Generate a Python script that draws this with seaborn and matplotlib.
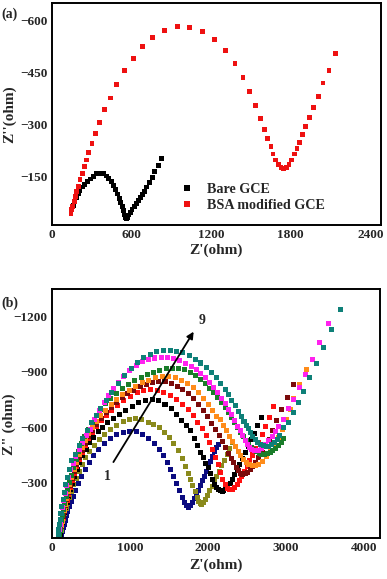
import seaborn as sns
import matplotlib.pyplot as plt
import pandas as pd

sns.set_style("white")
plt.rcParams['font.family'] = ['Liberation Serif', 'DejaVu Serif']
plt.rcParams['font.weight'] = 'bold'
plt.rcParams['axes.labelweight'] = 'bold'

# ---- panel (a): bare vs BSA modified GCE ----
bare_x = [146, 153, 163, 174, 186, 199, 213, 231, 248, 269, 292, 315, 339, 364, 389, 410, 429, 450, 468, 482,
          498, 510, 520, 531, 538, 545, 552, 561, 570, 580, 593, 605, 621, 636, 651, 666, 681, 696, 716, 737,
          756, 777, 802, 825]
bare_y = [-43, -55, -66, -78, -89, -100, -110, -120, -128, -136, -143, -150, -158, -160, -158, -152, -144, -135, -124, -113,
          -100, -88, -76, -64, -53, -42, -33, -29, -33, -40, -48, -55, -64, -73, -81, -90, -99, -108, -120, -133,
          -147, -164, -182, -201]

bsa_x = [146, 151, 158, 169, 178, 188, 204, 213, 229, 244, 259, 279, 304, 329, 359, 399, 440, 490, 550, 616,
         681, 756, 851, 948, 1038, 1133, 1224, 1309, 1380, 1440, 1490, 1535, 1571, 1600, 1626, 1651, 1666, 1686, 1706, 1727,
         1746, 1767, 1787, 1806, 1827, 1847, 1867, 1887, 1912, 1943, 1973, 2008, 2043, 2088, 2139]
bsa_y = [-45, -55, -64, -78, -93, -107, -121, -141, -160, -179, -198, -219, -246, -273, -306, -342, -376, -415, -454, -490,
         -523, -550, -569, -581, -579, -567, -544, -512, -476, -436, -395, -355, -318, -286, -260, -236, -215, -198, -184, -176,
         -174, -177, -185, -198, -215, -232, -249, -270, -294, -319, -348, -381, -419, -455, -504]

labels_a = ["Bare GCE", "BSA modified GCE"]
colors_a = ["#000000", "#ee1111"]

# ---- panel (b): curves 1..9 ----
x1 = [125, 135, 146, 158, 172, 188, 206, 226, 250, 278, 310, 345, 385, 430, 480, 540, 605, 675, 750, 830,
      915, 1000, 1085, 1165, 1240, 1310, 1375, 1430, 1480, 1525, 1565, 1600, 1635, 1668, 1700, 1730, 1755, 1780, 1805, 1830,
      1855, 1880, 1905, 1930, 1955, 1980, 2005, 2030, 2055, 2080, 2105, 2133]
y1 = [-20, -38, -56, -76, -98, -121, -145, -170, -197, -227, -260, -295, -333, -370, -408, -445, -480, -512, -540, -561,
      -574, -579, -575, -562, -540, -512, -480, -447, -410, -372, -333, -295, -258, -223, -193, -175, -168, -176, -192, -213,
      -236, -260, -285, -310, -336, -362, -389, -416, -443, -470, -488, -506]

x2 = [112, 121, 131, 142, 155, 170, 187, 206, 228, 253, 282, 315, 352, 393, 438, 488, 545, 608, 678, 755,
      835, 915, 995, 1075, 1155, 1235, 1303, 1375, 1445, 1505, 1565, 1620, 1668, 1710, 1745, 1778, 1808, 1835, 1860, 1882,
      1902, 1922, 1945, 1970, 1997, 2025, 2055, 2085, 2115, 2145, 2178, 2212, 2246, 2280, 2316]
y2 = [-20, -40, -61, -83, -107, -133, -160, -189, -220, -253, -288, -325, -363, -400, -436, -470, -502, -532, -560, -590,
      -612, -630, -641, -645, -640, -628, -617, -597, -573, -544, -513, -472, -430, -390, -352, -318, -285, -252, -222, -200,
      -188, -184, -192, -210, -232, -256, -282, -309, -336, -363, -392, -422, -452, -483, -515]

x3 = [108, 117, 127, 138, 150, 164, 180, 198, 218, 240, 265, 293, 325, 360, 398, 440, 487, 538, 595, 655,
      720, 790, 865, 945, 1030, 1115, 1200, 1285, 1368, 1450, 1528, 1600, 1665, 1725, 1778, 1825, 1868, 1905, 1940, 1972,
      2002, 2030, 2056, 2080, 2105, 2130, 2155, 2180, 2205, 2230, 2255, 2282, 2310, 2340, 2372, 2405, 2440, 2477, 2515, 2555,
      2595, 2637, 2680]
y3 = [-20, -41, -63, -86, -111, -138, -166, -196, -228, -262, -298, -335, -373, -410, -447, -482, -515, -546, -575, -601,
      -625, -648, -670, -692, -712, -732, -745, -748, -742, -725, -700, -670, -636, -608, -580, -540, -500, -465, -435, -405,
      -380, -350, -320, -292, -272, -261, -256, -255, -259, -267, -280, -298, -320, -345, -372, -400, -430, -462, -497, -532,
      -567, -610, -655]

x4 = [106, 115, 125, 136, 148, 162, 178, 196, 216, 238, 263, 291, 322, 356, 393, 433, 477, 525, 578, 636,
      700, 770, 845, 925, 1010, 1095, 1180, 1265, 1350, 1435, 1520, 1600, 1675, 1745, 1810, 1870, 1925, 1975, 2020, 2060,
      2098, 2132, 2162, 2190, 2218, 2248, 2280, 2312, 2345, 2375, 2405, 2435, 2467, 2500, 2535, 2572, 2610, 2650, 2695, 2740,
      2790, 2844]
y4 = [-20, -42, -65, -89, -115, -143, -173, -205, -239, -275, -312, -350, -389, -428, -466, -503, -539, -573, -605, -636,
      -665, -693, -720, -745, -767, -785, -798, -803, -800, -790, -772, -750, -724, -695, -662, -628, -592, -555, -516, -478,
      -438, -398, -358, -320, -288, -268, -262, -265, -274, -290, -310, -333, -360, -388, -418, -450, -484, -520, -560, -602,
      -650, -713]

x5 = [104, 113, 123, 134, 146, 160, 176, 194, 214, 236, 261, 289, 320, 354, 391, 431, 475, 523, 575, 632,
      695, 762, 835, 905, 975, 1050, 1130, 1210, 1290, 1370, 1450, 1530, 1605, 1680, 1752, 1820, 1885, 1945, 2000, 2050,
      2098, 2142, 2182, 2220, 2258, 2295, 2330, 2362, 2392, 2420, 2447, 2475, 2505, 2538, 2573, 2610, 2650, 2692, 2735, 2782,
      2830, 2878, 2942, 3014, 3090]
y5 = [-20, -42, -66, -91, -118, -147, -178, -211, -246, -283, -321, -360, -400, -439, -477, -514, -550, -584, -617, -648,
      -678, -707, -735, -760, -780, -800, -818, -832, -842, -847, -845, -836, -822, -803, -780, -753, -723, -690, -656, -622,
      -590, -556, -522, -490, -460, -432, -407, -385, -366, -352, -345, -348, -358, -372, -390, -412, -436, -462, -495, -535,
      -585, -636, -695, -761, -833]

x6 = [102, 111, 121, 132, 144, 158, 174, 192, 212, 234, 259, 287, 318, 352, 389, 429, 473, 521, 573, 630,
      692, 760, 832, 910, 990, 1075, 1160, 1245, 1330, 1415, 1500, 1585, 1665, 1740, 1812, 1880, 1945, 2005, 2060, 2110,
      2157, 2200, 2240, 2278, 2316, 2352, 2385, 2418, 2452, 2487, 2525, 2565, 2605, 2650, 2700, 2750, 2800, 2850, 2900, 2950,
      3000, 3050, 3099, 3176, 3261]
y6 = [-20, -43, -67, -93, -121, -151, -183, -217, -253, -291, -330, -370, -411, -451, -490, -528, -565, -600, -633, -664,
      -693, -722, -750, -776, -800, -822, -840, -855, -866, -873, -874, -868, -853, -835, -812, -785, -755, -722, -690, -658,
      -640, -610, -580, -550, -522, -495, -470, -448, -428, -412, -400, -393, -391, -398, -415, -440, -470, -505, -545, -590,
      -640, -695, -755, -833, -910]

x7 = [98, 107, 117, 128, 140, 154, 170, 188, 208, 230, 255, 283, 314, 348, 385, 425, 469, 517, 570, 628,
      690, 757, 830, 905, 985, 1065, 1145, 1225, 1305, 1385, 1465, 1545, 1625, 1700, 1771, 1840, 1905, 1965, 2020, 2072,
      2120, 2168, 2218, 2262, 2304, 2342, 2378, 2414, 2452, 2488, 2520, 2552, 2585, 2620, 2655, 2690, 2725, 2760, 2795, 2830,
      2865, 2900, 2935, 2965]
y7 = [-20, -44, -69, -96, -125, -156, -189, -224, -261, -300, -341, -383, -426, -469, -511, -551, -590, -627, -662, -695,
      -726, -755, -783, -808, -832, -853, -870, -884, -896, -906, -915, -919, -917, -910, -896, -878, -857, -835, -810, -785,
      -760, -733, -704, -677, -650, -623, -597, -571, -548, -527, -508, -492, -478, -467, -460, -455, -454, -456, -462, -472,
      -485, -500, -518, -538]

x8 = [90, 98, 107, 117, 128, 141, 156, 173, 193, 216, 243, 274, 310, 350, 396, 445, 494, 550, 613, 670,
      728, 790, 856, 925, 1000, 1080, 1160, 1240, 1320, 1400, 1480, 1560, 1640, 1715, 1785, 1850, 1910, 1965, 2018, 2072,
      2125, 2172, 2218, 2262, 2304, 2340, 2375, 2410, 2444, 2475, 2503, 2530, 2560, 2590, 2620, 2650, 2680, 2710, 2740, 2780,
      2820, 2860, 2900, 2963, 3027, 3099, 3176, 3253, 3338, 3431, 3542]
y8 = [-20, -45, -72, -101, -132, -166, -203, -242, -283, -326, -370, -405, -440, -480, -520, -555, -587, -640, -691, -733,
      -772, -808, -839, -872, -905, -932, -953, -966, -974, -979, -977, -971, -960, -946, -928, -910, -890, -868, -842, -815,
      -785, -757, -727, -698, -668, -636, -605, -580, -555, -530, -506, -490, -480, -474, -473, -476, -484, -496, -508, -527,
      -550, -578, -605, -641, -699, -749, -812, -883, -964, -1057, -1158]

x9 = [85, 92, 100, 109, 119, 131, 145, 161, 180, 202, 228, 258, 300, 350, 400, 455, 510, 570, 630, 695,
      771, 850, 935, 1025, 1100, 1175, 1260, 1346, 1430, 1516, 1600, 1678, 1760, 1835, 1908, 1976, 2042, 2103, 2162, 2218,
      2262, 2304, 2348, 2388, 2425, 2461, 2490, 2516, 2545, 2572, 2605, 2640, 2675, 2710, 2745, 2780, 2815, 2850, 2885, 2920,
      2972, 3027, 3090, 3154, 3227, 3304, 3389, 3482, 3584, 3700]
y9 = [-20, -46, -74, -104, -136, -171, -208, -247, -288, -330, -374, -418, -455, -500, -540, -585, -625, -665, -703, -745,
      -790, -835, -878, -918, -950, -975, -995, -1009, -1014, -1014, -1010, -1003, -988, -968, -947, -925, -897, -866, -835, -802,
      -775, -745, -715, -686, -659, -632, -610, -591, -570, -551, -533, -518, -507, -500, -497, -498, -505, -517, -535, -557,
      -596, -627, -677, -731, -793, -866, -943, -1033, -1130, -1237]

curves_b = [(x1, y1), (x2, y2), (x3, y3), (x4, y4), (x5, y5), (x6, y6), (x7, y7), (x8, y8), (x9, y9)]
colors_b = ["#0b0b80", "#8a8a1c", "#000000", "#ff1010", "#7a0a0a", "#ff8c1a", "#1a7d2a", "#ff22ee", "#0e8078"]

df_a = pd.concat([
    pd.DataFrame({"zre": bare_x, "zim": bare_y, "sample": labels_a[0]}),
    pd.DataFrame({"zre": bsa_x, "zim": bsa_y, "sample": labels_a[1]}),
])
df_b = pd.concat([
    pd.DataFrame({"zre": cx, "zim": cy, "curve": str(i + 1)}) for i, (cx, cy) in enumerate(curves_b)
])

fig = plt.figure(figsize=(3.87, 5.79), dpi=100)
ax1 = fig.add_axes([0.1336, 0.6114, 0.851, 0.384])
ax2 = fig.add_axes([0.1336, 0.0703, 0.848, 0.430])

sns.scatterplot(data=df_a, x="zre", y="zim", hue="sample", palette=colors_a,
                marker="s", s=12, linewidth=0, ax=ax1)
sns.scatterplot(data=df_b, x="zre", y="zim", hue="curve", palette=colors_b,
                marker="s", s=13, linewidth=0, legend=False, ax=ax2)

# panel a styling
ax1.set_xlim(0, 2480)
ax1.set_ylim(-11, -650)
ax1.set_xticks([0, 600, 1200, 1800, 2400])
ax1.set_yticks([-600, -450, -300, -150])
ax1.set_xlabel("Z'(ohm)", fontsize=11, fontweight="bold")
ax1.set_ylabel("Z''(ohm)", fontsize=11, fontweight="bold")
ax1.xaxis.set_label_coords(0.5, -0.085)
ax1.yaxis.set_label_coords(-0.108, 0.5)
leg = ax1.legend(frameon=False, loc="upper left", bbox_to_anchor=(0.33, 0.245),
                 fontsize=10.2, handletextpad=0.4, labelspacing=0.2, markerscale=1.2)

# panel b styling
ax2.set_xlim(0, 4200)
ax2.set_ylim(0, -1345)
ax2.set_xticks([0, 1000, 2000, 3000, 4000])
ax2.set_yticks([-1200, -900, -600, -300])
ax2.set_xlabel("Z'(ohm)", fontsize=11, fontweight="bold")
ax2.set_ylabel('Z" (ohm)', fontsize=11, fontweight="bold")
ax2.xaxis.set_label_coords(0.5, -0.08)
ax2.yaxis.set_label_coords(-0.108, 0.46)
ax2.annotate("", xy=(1835, -1129), xytext=(771, -399),
             arrowprops=dict(arrowstyle="-|>", color="black", lw=1.3, mutation_scale=10))
ax2.text(715, -336, "1", ha="center", va="center", fontsize=10, fontweight="bold")
ax2.text(1921, -1176, "9", ha="center", va="center", fontsize=10, fontweight="bold")

for ax in (ax1, ax2):
    ax.tick_params(length=0, labelsize=9.5, pad=3)
    for lab in ax.get_xticklabels() + ax.get_yticklabels():
        lab.set_fontweight("bold")
    for sp in ax.spines.values():
        sp.set_color("black")
        sp.set_linewidth(1.4)

fig.text(0.003, 0.975, "(a)", fontsize=10, fontweight="bold", va="center")
fig.text(0.003, 0.476, "(b)", fontsize=10, fontweight="bold", va="center")

plt.savefig("out.png", dpi=100)
